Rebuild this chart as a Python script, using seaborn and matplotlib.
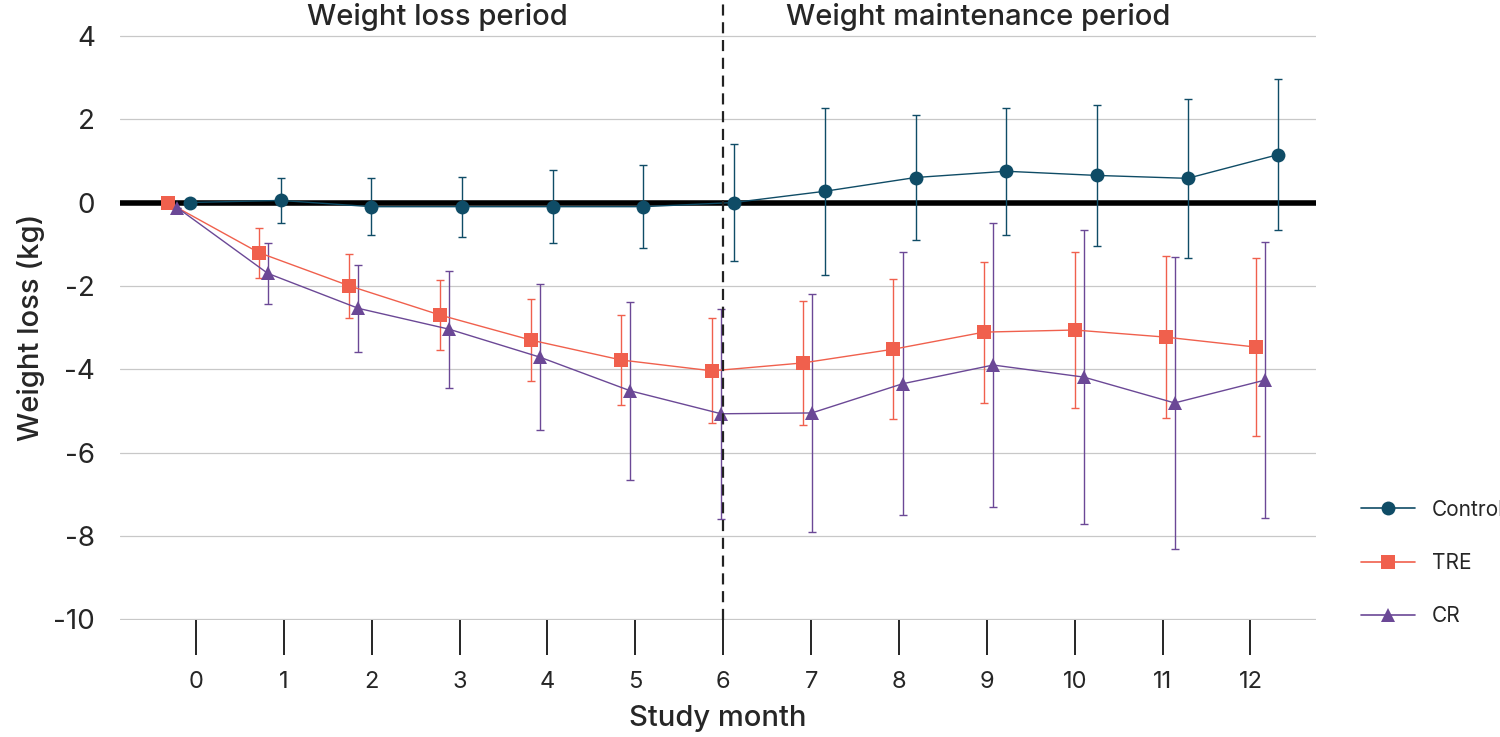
import numpy as np
import pandas as pd
import matplotlib
matplotlib.use("Agg")
import matplotlib.pyplot as plt
import seaborn as sns
from matplotlib.lines import Line2D

months = list(range(13))
control = [0, 0.05, -0.1, -0.1, -0.1, -0.1, 0, 0.27, 0.6, 0.75, 0.65, 0.58, 1.15]
control_err = [0, 0.55, 0.68, 0.72, 0.87, 1.0, 1.4, 2.0, 1.5, 1.53, 1.7, 1.9, 1.82]
tre = [0, -1.2, -2.0, -2.7, -3.3, -3.78, -4.04, -3.85, -3.52, -3.11, -3.06, -3.23, -3.47]
tre_err = [0, 0.6, 0.77, 0.84, 0.98, 1.09, 1.26, 1.48, 1.68, 1.69, 1.87, 1.95, 2.14]
cr = [-0.12, -1.7, -2.54, -3.04, -3.71, -4.52, -5.07, -5.05, -4.35, -3.9, -4.19, -4.81, -4.26]
cr_err = [0, 0.73, 1.04, 1.4, 1.75, 2.14, 2.52, 2.85, 3.16, 3.4, 3.52, 3.5, 3.31]
groups = ["Control", "TRE", "CR"]
colors = {"Control": "#0f4c66", "TRE": "#f0604d", "CR": "#6b4896"}
markers = {"Control": "o", "TRE": "s", "CR": "^"}
offsets = {"Control": -0.068, "TRE": -0.319, "CR": -0.216}
stretch = 1.032

sns.set_theme(style="white")
plt.rcParams["font.family"] = ["Inter", "DejaVu Sans"]

fig = plt.figure(figsize=(15, 7.37), dpi=100)
ax = fig.add_axes([0.08, 0.1587, 0.797, 0.7938])

vals = {"Control": (control, control_err), "TRE": (tre, tre_err), "CR": (cr, cr_err)}
rows = []
for g in groups:
    for m, v in zip(months, vals[g][0]):
        rows.append({"x": offsets[g] + stretch * m, "y": v, "group": g})
df = pd.DataFrame(rows)

for g in groups:
    xs = np.array([offsets[g] + stretch * m for m in months])
    ys, es = vals[g]
    ax.errorbar(xs, ys, yerr=es, fmt="none", ecolor=colors[g], elinewidth=1, capsize=3, zorder=3)

ax.axhline(0, color="black", lw=4, zorder=2)
sns.lineplot(data=df, x="x", y="y", hue="group", style="group", palette=colors,
             markers=markers, dashes=False, markersize=10, lw=1, ax=ax, legend=False,
             zorder=4, markeredgewidth=0)

ax.axvline(6, ymin=0, ymax=1.06, color="#222222", lw=1.6, ls=(0, (5, 3)), zorder=5, clip_on=False)

ax.set_xlim(-0.865, 12.74)
ax.set_ylim(-10.02, 4.02)
ax.set_yticks(range(-10, 5, 2))
ax.set_yticklabels([str(v) for v in range(-10, 5, 2)], fontsize=20)
ax.set_xticks(months)
ax.set_xticklabels([str(m) for m in months], fontsize=17)
ax.grid(axis="y", color="#c8c8c8", lw=0.9)
for s in ax.spines.values():
    s.set_visible(False)
ax.tick_params(axis="x", length=25, width=1.2, color="black", pad=12, direction="out", bottom=True)
ax.tick_params(axis="y", length=0, pad=18)
ax.set_xlabel("Study month", fontsize=21, labelpad=8, fontweight="medium")
ax.set_ylabel("Weight loss (kg)", fontsize=21, labelpad=6, fontweight="medium")

ax.text(2.75, 4.45, "Weight loss period", fontsize=21, ha="center", va="center",
        clip_on=False, fontweight="medium")
ax.text(8.9, 4.45, "Weight maintenance period", fontsize=21, ha="center", va="center",
        clip_on=False, fontweight="medium")

handles = [Line2D([0], [0], color=colors[g], marker=markers[g], markersize=10, lw=1.2,
                  markeredgewidth=0) for g in groups]
fig.legend(handles, groups, loc="center left", bbox_to_anchor=(0.895, 0.236), frameon=False,
           fontsize=15, labelspacing=1.6, handlelength=2.6, handletextpad=0.8)

fig.savefig("out.png", dpi=100)
